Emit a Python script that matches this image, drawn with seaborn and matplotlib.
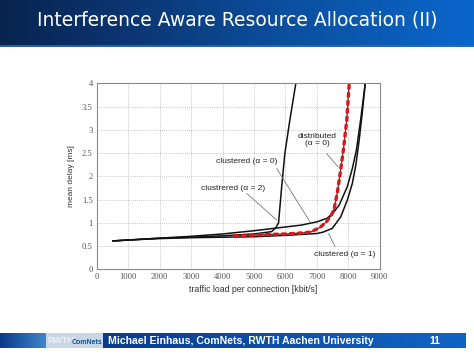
import numpy as np
import pandas as pd
import matplotlib
matplotlib.use("Agg")
import matplotlib.pyplot as plt
import seaborn as sns
from matplotlib.colors import LinearSegmentedColormap

# ---------------- data ----------------
title = "Interference Aware Resource Allocation (II)"
footer_text = "Michael Einhaus, ComNets, RWTH Aachen University"
page_no = "11"
x_label = "traffic load per connection [kbit/s]"
y_label = "mean delay [ms]"

x_ticks = [0, 1000, 2000, 3000, 4000, 5000, 6000, 7000, 8000, 9000]
y_ticks = [0, 0.5, 1, 1.5, 2, 2.5, 3, 3.5, 4]
y_tick_labels = ["0", "0.5", "1", "1.5", "2", "2.5", "3", "3.5", "4"]

# clustered (alpha = 2): early steep rise
a2_load = [500, 1000, 2000, 3000, 4000, 5000, 5560, 5700, 5780, 5880, 5980, 6140, 6330]
a2_delay = [0.61, 0.63, 0.67, 0.69, 0.72, 0.76, 0.81, 0.90, 1.00, 1.78, 2.49, 3.21, 4.0]

# clustered (alpha = 0)
a0_load = [500, 1000, 2000, 3000, 4000, 5000, 5500, 6000, 6500, 7000, 7330, 7500,
           7710, 7970, 8130, 8260, 8400, 8540]
a0_delay = [0.61, 0.63, 0.67, 0.71, 0.76, 0.83, 0.87, 0.91, 0.95, 1.02, 1.10, 1.20,
            1.38, 1.78, 2.17, 2.57, 3.25, 4.0]

# clustered (alpha = 1)
a1_load = [500, 1000, 2000, 3000, 4000, 5000, 6000, 7000, 7200, 7490, 7760, 7970,
           8130, 8240, 8350, 8450, 8540]
a1_delay = [0.61, 0.63, 0.66, 0.68, 0.69, 0.70, 0.73, 0.77, 0.80, 0.88, 1.13, 1.49,
            1.85, 2.24, 2.80, 3.40, 4.0]

# distributed (alpha = 0)
d0_load = [4370, 4800, 5500, 6000, 6500, 6800, 7100, 7300, 7450, 7550, 7650, 7750,
           7850, 7950, 8030]
d0_delay = [0.72, 0.73, 0.75, 0.76, 0.78, 0.80, 0.90, 1.02, 1.15, 1.30, 1.65, 2.10,
            2.60, 3.20, 4.0]

# ---------------- figure ----------------
sns.set_theme(style="white")
plt.rcParams["font.family"] = ["DejaVu Sans"]

W, H = 474, 355
fig = plt.figure(figsize=(W / 100, H / 100), dpi=100)
fig.patch.set_facecolor("white")

# header band
hdr_h = 47
ax_h = fig.add_axes([0, 1 - hdr_h / H, 1, hdr_h / H])
cmap_h = LinearSegmentedColormap.from_list(
    "hdr", [(0.0, "#08244e"), (0.25, "#0b3470"), (0.6, "#0c4f9e"), (1.0, "#0a66cc")])
ax_h.imshow(np.linspace(0, 1, 256)[None, :], cmap=cmap_h, aspect="auto",
            extent=[0, 1, 0, 1])
ax_h.axhline(0.02, color="#2a6cb8", lw=1.2)
ax_h.set_xlim(0, 1)
ax_h.set_ylim(0, 1)
ax_h.axis("off")
ax_h.text(0.5, 0.57, title, color="white", fontsize=13.5, ha="center", va="center",
          family=["DejaVu Sans"])

# footer band
ft_y0, ft_y1 = 333, 348
ax_f = fig.add_axes([0, 1 - ft_y1 / H, 466 / W, (ft_y1 - ft_y0) / H])
ax_f.set_xlim(0, 466)
ax_f.set_ylim(0, 1)
ax_f.axis("off")
cmap_l = LinearSegmentedColormap.from_list("fl", ["#0c3a8a", "#3d86cc"])
ax_f.imshow(np.linspace(0, 1, 64)[None, :], cmap=cmap_l, aspect="auto",
            extent=[0, 46, 0, 1])
ax_f.imshow(np.ones((1, 2)), cmap=LinearSegmentedColormap.from_list("g", ["#c9d6e3", "#c9d6e3"]),
            aspect="auto", extent=[46, 103, 0, 1])
cmap_r = LinearSegmentedColormap.from_list("fr", ["#0a3c8c", "#0d52aa", "#1164c4"])
ax_f.imshow(np.linspace(0, 1, 256)[None, :], cmap=cmap_r, aspect="auto",
            extent=[103, 466, 0, 1])
ax_f.text(47, 0.5, "RWTH", color="#eef2f7", fontsize=6.5, fontweight="bold",
          ha="left", va="center", family=["Liberation Sans"])
ax_f.text(102, 0.4, "ComNets", color="#1a4f9c", fontsize=5.0, fontweight="bold",
          ha="right", va="center", family=["Liberation Sans"])
ax_f.text(108, 0.5, footer_text, color="white", fontsize=7.6, fontweight="bold",
          ha="left", va="center", family=["Liberation Sans"])
ax_f.text(435, 0.5, page_no, color="white", fontsize=7.6, fontweight="bold",
          ha="center", va="center", family=["Liberation Sans"])

# main chart axes
x0, x1 = 97, 379.7
y_top, y_bot = 83.3, 269.3
ax = fig.add_axes([x0 / W, 1 - y_bot / H, (x1 - x0) / W, (y_bot - y_top) / H])

black = "#111111"
sns.lineplot(x=a2_load, y=a2_delay, ax=ax, color=black, lw=1.1, sort=False, estimator=None)
sns.lineplot(x=a0_load, y=a0_delay, ax=ax, color=black, lw=1.1, sort=False, estimator=None)
sns.lineplot(x=a1_load, y=a1_delay, ax=ax, color=black, lw=1.1, sort=False, estimator=None)
sns.lineplot(x=d0_load, y=d0_delay, ax=ax, color="#333333", lw=0.8, sort=False, estimator=None)
ln = sns.lineplot(x=d0_load, y=d0_delay, ax=ax, color="#d81818", lw=2.4, sort=False,
                  estimator=None).lines[-1]
ln.set_linestyle((0, (1.0, 1.4)))
ln.set_dash_capstyle("round")

ax.set_xlim(0, 9000)
ax.set_ylim(0, 4)
ax.set_xticks(x_ticks)
ax.set_xticklabels([str(t) for t in x_ticks])
ax.set_yticks(y_ticks)
ax.set_yticklabels(y_tick_labels)
ax.grid(True, color="#b5b5b5", lw=0.6, linestyle=(0, (1, 1.5)))
for sp in ax.spines.values():
    sp.set_color("#8a8a8a")
    sp.set_linewidth(0.8)
ax.tick_params(length=0, pad=3, labelsize=6.2, colors="#555555")
for lab in ax.get_xticklabels() + ax.get_yticklabels():
    lab.set_family(["Liberation Serif"])
ax.set_xlabel(x_label, fontsize=6.3, color="#333333", family=["Liberation Sans"], labelpad=3)
ax.xaxis.set_label_coords((253 - x0) / (x1 - x0), -0.085)
ax.set_ylabel(y_label, fontsize=6.0, color="#333333", family=["Liberation Sans"])
ax.yaxis.set_label_coords(-(x0 - 75) / (x1 - x0), 0.5)

# annotations with gray leader lines
lead = dict(arrowstyle="-", color="#777777", lw=0.6, shrinkA=0, shrinkB=0)
tk = dict(fontsize=6.0, color="#222222", family=["Liberation Sans"], ha="center", va="center")
ax.text(7000, 2.78, "distributed\n(\u03b1 = 0)", linespacing=1.0, **tk)
ax.annotate("", xy=(7680, 2.2), xytext=(7310, 2.49), arrowprops=lead)
ax.text(4770, 2.31, "clustered (\u03b1 = 0)", **tk)
ax.annotate("", xy=(6780, 1.02), xytext=(5720, 2.17), arrowprops=lead)
ax.text(4340, 1.74, "clustrered (\u03b1 = 2)", **tk)
ax.annotate("", xy=(5720, 1.06), xytext=(4770, 1.63), arrowprops=lead)
ax.text(7900, 0.31, "clustered (\u03b1 = 1)", **tk)
ax.annotate("", xy=(7370, 0.77), xytext=(7580, 0.49), arrowprops=lead)

fig.savefig("out.png", dpi=100, facecolor="white")
